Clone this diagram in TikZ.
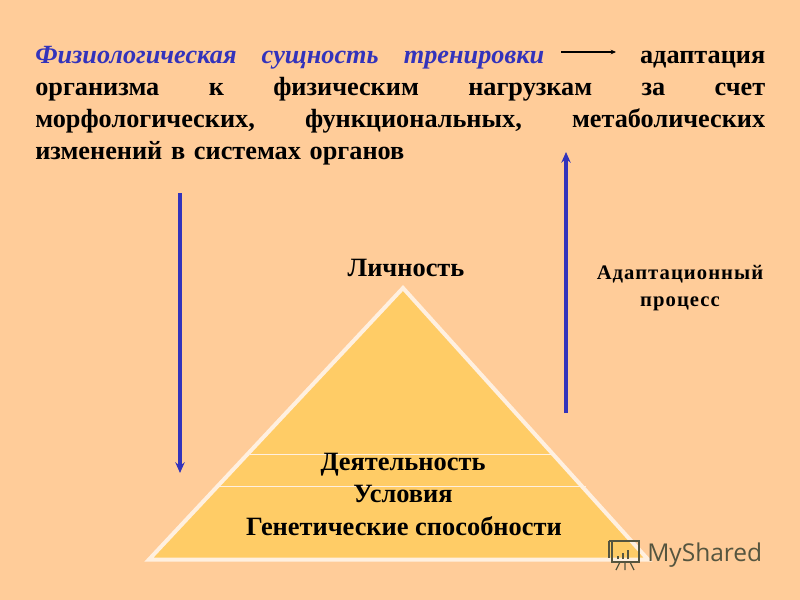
\documentclass[tikz,border=0pt]{standalone}
\usepackage{fontspec}
\setmainfont{Liberation Serif}
\newfontfamily\wmfont{Open Sans}
\usetikzlibrary{arrows.meta}
\definecolor{peachbg}{HTML}{FFCC99}
\definecolor{pyrfill}{HTML}{FFCC66}
\definecolor{pyredge}{HTML}{FFF0E0}
\definecolor{bluearrow}{HTML}{3333BB}
\definecolor{wmgray}{HTML}{55553F}
\tikzset{
	headline/.style={anchor=base west,inner sep=0pt,font=\fontsize{19.7}{22}\selectfont\bfseries,text width=547.5pt},
	pyrlabel/.style={inner sep=0pt,font=\fontsize{19.8}{22}\selectfont\bfseries},
	sidelabel/.style={inner sep=0pt,font=\fontsize{15.5}{17}\selectfont\bfseries\addfontfeatures{LetterSpace=5}},
	bigarrow/.style={bluearrow,line width=2.4pt,-{Stealth[length=8pt,width=7pt]}}
}
\begin{document}
\begin{tikzpicture}[x=0.75pt,y=-0.75pt]
	%%%%% START %%%%%
	\def\xleft{35}
	\def\apexy{288}
	\def\basey{559.5}
	\fill[peachbg] (0,0) rectangle (800,600);
	\useasboundingbox (0,0) rectangle (800,600);

	% pyramid
	\coordinate (apex) at (403,\apexy);
	\coordinate (baseleft) at (149,\basey);
	\coordinate (baseright) at (648,\basey);
	\draw[pyredge,line width=3pt,fill=pyrfill,line join=miter] (apex) -- (baseleft) -- (baseright) -- cycle;
	\coordinate (bandaleft) at (250,454);
	\coordinate (bandaright) at (555,454);
	\coordinate (bandbleft) at (219,486);
	\coordinate (bandbright) at (586,486);
	\draw[pyredge,line width=0.7pt] (bandaleft) -- (bandaright);
	\draw[pyredge,line width=0.7pt] (bandbleft) -- (bandbright);

	% top text
	\node[headline] (lineone) at (\xleft,63) {\textcolor{bluearrow}{\textit{Физиологическая}\hfill\textit{сущность}\hfill\textit{тренировки}}\hspace*{53pt}\hfill адаптация};
	\node[headline] (linetwo) at (\xleft,95) {организма\hfill к\hfill физическим\hfill нагрузкам\hfill за\hfill счет};
	\node[headline] (linethree) at (\xleft,127) {морфологических,\hfill функциональных,\hfill метаболических};
	\node[headline] (linefour) at (\xleft,159) {изменений в системах органов};
	\coordinate (thinstart) at (561,52);
	\coordinate (thinend) at (616,52);
	\draw[line width=0.8pt,-{Stealth[length=4pt,width=3.5pt]}] (thinstart) -- (thinend);

	% side arrows
	\coordinate (downstart) at (180,193);
	\coordinate (downend) at (180,473);
	\coordinate (upstart) at (566,413);
	\coordinate (upend) at (566,152);
	\draw[bigarrow] (downstart) -- (downend);
	\draw[bigarrow] (upstart) -- (upend);

	% labels
	\node[pyrlabel] (top) at (406,268) {Личность};
	\node[pyrlabel] (activity) at (403,465) {Деятельность};
	\node[pyrlabel] (conditions) at (403,494) {Условия};
	\node[pyrlabel] (abilities) at (404,526) {Генетические способности};
	\node[sidelabel] (adapt) at (680,274) {Адаптационный};
	\node[sidelabel] (process) at (680,304) {процесс};

	% watermark
	\node[anchor=west,inner sep=0pt,wmgray,font=\wmfont\fontsize{18.4}{20}\selectfont] (myshared) at (647,555) {MyShared};
	\draw[wmgray,line width=1.1pt] (612,541) rectangle (639,562);
	\draw[wmgray,line width=1.1pt] (609,541) -- (609,558) (609,541) -- (639,541);
	\draw[wmgray,line width=1.6pt] (618,559) -- (618,556) (623,559) -- (623,553) (628,559) -- (628,550);
	\draw[wmgray,line width=0.9pt] (620,562) -- (616,570) (625,562) -- (625,570) (630,562) -- (634,570);
	%%%%% END %%%%%
\end{tikzpicture}
\end{document}
